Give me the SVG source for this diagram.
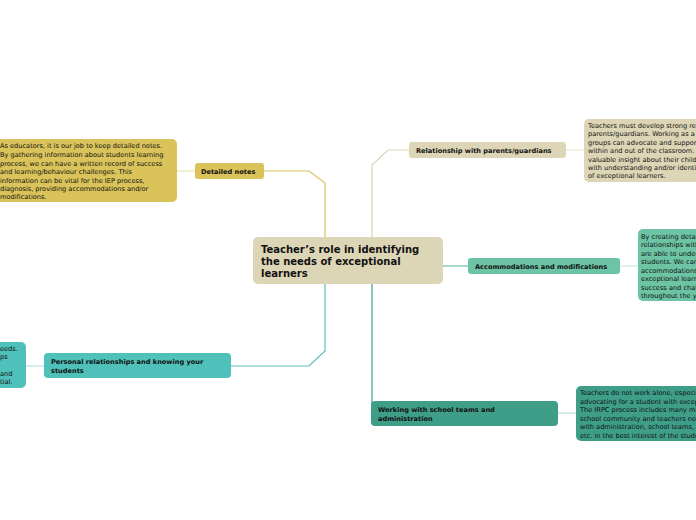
<svg xmlns="http://www.w3.org/2000/svg" width="696" height="520" viewBox="0 0 696 520">
<style>
text{font-family:"DejaVu Sans",Verdana,sans-serif;fill:#111}
.t{font-size:6.6px}
.b{font-size:6.6px;font-weight:bold}
.c{fill:none;stroke-width:1.2}
</style>
<rect width="696" height="520" fill="#fff"/>
<g id="connectors">
<path class="c" stroke="#d9c35a" d="M325 238 V183 L309 171 H264"/>
<path class="c" stroke="#ede3b0" d="M195 171 H177"/>
<path class="c" stroke="#ddd5b4" d="M372 238 V165 L388 150 H410"/>
<path class="c" stroke="#ece7d5" d="M566 150 H585"/>
<path class="c" stroke="#6cc4a4" d="M443 266 H469"/>
<path class="c" stroke="#c8ebdf" d="M620 266 H639"/>
<path class="c" stroke="#56c0bb" d="M325 284 V351 L309 366 H231"/>
<path class="c" stroke="#b5e4e2" d="M45 366 H26"/>
<path class="c" stroke="#3e9e88" d="M372 284 V413"/>
<path class="c" stroke="#b7ddd4" d="M558 413 H577"/>
</g>
<g id="center"><rect x="253" y="237" width="190" height="47" rx="5" fill="#ddd6b6"/>
<text x="261" y="253" font-size="10" font-weight="bold">Teacher’s role in identifying</text>
<text x="261" y="265" font-size="10" font-weight="bold">the needs of exceptional</text>
<text x="261" y="277" font-size="10" font-weight="bold">learners</text></g>
<g id="detailed"><rect x="195" y="163" width="69" height="16" rx="3" fill="#d9c35a"/>
<text class="b" x="201" y="173.5">Detailed notes</text></g>
<g id="detailed-note"><rect x="-6" y="139" width="183" height="63" rx="5" fill="#d9c35a"/>
<g class="t"><text x="0" y="148">As educators, it is our job to keep detailed notes.</text>
<text x="0" y="157">By gathering information about students learning</text>
<text x="0" y="166">process, we can have a written record of success</text>
<text x="0" y="174">and learning/behaviour challenges. This</text>
<text x="0" y="183">information can be vital for the IEP process,</text>
<text x="0" y="191">diagnosis, providing accommodations and/or</text>
<text x="0" y="199">modifications.</text></g></g>
<g id="parents"><rect x="409" y="142" width="157" height="16" rx="3" fill="#ddd6b6"/>
<text class="b" x="416" y="152.5">Relationship with parents/guardians</text></g>
<g id="parents-note"><rect x="584" y="119" width="120" height="63" rx="5" fill="#ddd6b6"/>
<g class="t"><text x="588" y="128">Teachers must develop strong relationships with</text>
<text x="588" y="136">parents/guardians. Working as a team, both</text>
<text x="588" y="145">groups can advocate and support the student</text>
<text x="588" y="153">within and out of the classroom. Parents provide</text>
<text x="588" y="162">valuable insight about their child and can help</text>
<text x="588" y="170">with understanding and/or identifying the needs</text>
<text x="588" y="178">of exceptional learners.</text></g></g>
<g id="accom"><rect x="468" y="258" width="152" height="16" rx="3" fill="#6cc4a4"/>
<text class="b" x="475" y="268.5">Accommodations and modifications</text></g>
<g id="accom-note"><rect x="638" y="229" width="70" height="72" rx="5" fill="#6cc4a4"/>
<g class="t"><text x="641" y="239">By creating detailed notes and</text>
<text x="641" y="247">relationships with families, we</text>
<text x="641" y="256">are able to understand our</text>
<text x="641" y="264">students. We can provide</text>
<text x="641" y="273">accommodations for</text>
<text x="641" y="281">exceptional learners' ongoing</text>
<text x="641" y="290">success and challenges</text>
<text x="641" y="298">throughout the year.</text></g></g>
<g id="personal"><rect x="44" y="353" width="187" height="25" rx="4" fill="#4fc0ba"/>
<text class="b" x="51" y="364">Personal relationships and knowing your</text>
<text class="b" x="51" y="372.5">students</text></g>
<g id="personal-note"><rect x="-10" y="342" width="36" height="46" rx="5" fill="#4fc0ba"/>
<g class="t"><text x="0" y="351">eeds.</text><text x="0" y="359">ps</text>
<text x="0" y="376">and</text><text x="0" y="384">tial.</text></g></g>
<g id="teams"><rect x="371" y="401" width="187" height="25" rx="4" fill="#3e9e88"/>
<text class="b" x="378" y="412">Working with school teams and</text>
<text class="b" x="378" y="420.5">administration</text></g>
<g id="teams-note"><rect x="576" y="386" width="130" height="55" rx="5" fill="#3e9e88"/>
<g class="t"><text x="580" y="395">Teachers do not work alone, especially when</text>
<text x="580" y="404">advocating for a student with exceptionalities.</text>
<text x="580" y="412">The IRPC process includes many members of the</text>
<text x="580" y="421">school community and teachers need to work</text>
<text x="580" y="429">with administration, school teams, specialists,</text>
<text x="580" y="438">etc. in the best interest of the student.</text></g></g>
</svg>
